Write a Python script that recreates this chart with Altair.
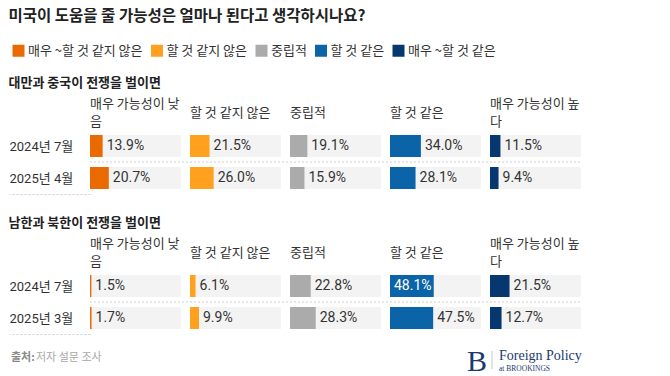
import altair as alt
import pandas as pd

chart_title = "미국이 도움을 줄 가능성은 얼마나 된다고 생각하시나요?"
legend_labels = ["매우 ~할 것 같지 않은", "할 것 같지 않은", "중립적", "할 것 같은", "매우 ~할 것 같은"]
headers = ["매우 가능성이 낮음", "할 것 같지 않은", "중립적", "할 것 같은", "매우 가능성이 높다"]
colors = ["#eb6a00", "#ffa11f", "#ababab", "#0b64a8", "#07376f"]

section1_title = "대만과 중국이 전쟁을 벌이면"
section1_rows = ["2024년 7월", "2025년 4월"]
section1_values = [[13.9, 21.5, 19.1, 34.0, 11.5],
                   [20.7, 26.0, 15.9, 28.1, 9.4]]

section2_title = "남한과 북한이 전쟁을 벌이면"
section2_rows = ["2024년 7월", "2025년 3월"]
section2_values = [[1.5, 6.1, 22.8, 48.1, 21.5],
                   [1.7, 9.9, 28.3, 47.5, 12.7]]

source_label = "출처:"
source_text = "저자 설문 조사"

FONT = "Roboto, 'Noto Sans CJK KR', sans-serif"
KFONT = "'Noto Sans CJK KR', sans-serif"
SERIF = "'Liberation Serif', serif"


def section(title_text, rows, values):
    recs = []
    for r, vals in zip(rows, values):
        for h, lg, v in zip(headers, legend_labels, vals):
            recs.append({"row": r, "col": h, "cat": lg, "value": v})
    df = pd.DataFrame(recs)

    xs = alt.Scale(domain=[0, 110])
    yaxis = alt.Axis(
        title=None, domain=False, ticks=True, tickBand="extent", tickSize=81,
        tickColor="#cfcfcf", tickDash=[2, 2], tickWidth=1,
        tickOpacity={"condition": {"test": f"datum.value == '{rows[1]}'", "value": 1}, "value": 0},
        labelAlign="left", labelPadding=0, labelFontSize=13, labelColor="#333333",
        labelFont=FONT, labelBaseline="middle",
    )
    y = alt.Y("row:N", sort=rows, title=None,
              scale=alt.Scale(paddingInner=0, paddingOuter=0), axis=yaxis)

    base = alt.Chart().transform_calculate(
        zero="0", full="100",
        lx="datum.value >= 48 ? 0 : datum.value",
        label="format(datum.value, '.1f') + '%'",
        rend=f"datum.col == '{headers[-1]}' ? 100 : 110",
        hdr="length(datum.col) > 9 ? [substring(datum.col, 0, 9), substring(datum.col, 9)] : datum.col",
    )

    bg = base.mark_bar(height=22, color="#f3f3f3").encode(
        y=y, x=alt.X("zero:Q", scale=xs, axis=None), x2="full:Q")
    bar = base.mark_bar(height=22).encode(
        y=y, x=alt.X("zero:Q", scale=xs, axis=None), x2="value:Q",
        color=alt.Color("cat:N", scale=alt.Scale(domain=legend_labels, range=colors),
                        legend=alt.Legend(title=None)))
    txt = base.mark_text(align="left", baseline="middle", dx=4, fontSize=14, font=FONT).encode(
        y=y, x=alt.X("lx:Q", scale=xs, axis=None), text="label:N",
        color=alt.condition("datum.value >= 48", alt.value("white"), alt.value("#333333")))
    rule = base.transform_filter(f"datum.row == '{rows[1]}'").mark_rule(
        color="#cfcfcf", strokeDash=[2, 2], strokeWidth=1).encode(
        y=alt.Y("row:N", sort=rows, bandPosition=0, title=None),
        x=alt.X("zero:Q", scale=xs, axis=None), x2="rend:Q")
    hdr_style = dict(align="left", baseline="middle", lineHeight=18, fontSize=13, font=KFONT,
                     color="#333333")
    hdr1 = base.transform_filter(
        f"datum.row == '{rows[0]}' && length(datum.col) <= 9").mark_text(**hdr_style).encode(
        x=alt.X("zero:Q", scale=xs, axis=None), y=alt.value(-17), text="hdr:N")
    hdr2 = base.transform_filter(
        f"datum.row == '{rows[0]}' && length(datum.col) > 9").mark_text(**hdr_style).encode(
        x=alt.X("zero:Q", scale=xs, axis=None), y=alt.value(-26), text="hdr:N")

    layered = alt.layer(bg, bar, txt, rule, hdr1, hdr2, data=df).properties(width=100, height=64)
    return layered.facet(
        column=alt.Column("col:N", sort=headers, title=None,
                          header=alt.Header(labels=False, title=None)),
        spacing=0, bounds="flush",
    ).properties(title=alt.TitleParams(title_text, anchor="start", fontSize=13, fontWeight="bold",
                                       font=KFONT, color="#222222", offset=8))


s1 = section(section1_title, section1_rows, section1_values)
s2 = section(section2_title, section2_rows, section2_values)

one = pd.DataFrame([{"a": 1}])
f_base = alt.Chart(one)
src1 = f_base.mark_text(align="left", baseline="top", fontSize=11, fontWeight="bold",
                        color="#8a8a8a", font=KFONT).encode(
    x=alt.value(-79), y=alt.value(0), text=alt.value(source_label))
src2 = f_base.mark_text(align="left", baseline="top", fontSize=11, color="#a8a8a8",
                        font=KFONT).encode(
    x=alt.value(-54), y=alt.value(0), text=alt.value(source_text))
logo_b = f_base.mark_text(align="left", baseline="top", fontSize=30, color="#1d3a6e",
                          font=SERIF).encode(
    x=alt.value(377), y=alt.value(-5), text=alt.value("B"))
logo_line = f_base.mark_rule(color="#c8c8c8").encode(
    x=alt.value(402), y=alt.value(-1), y2=alt.value(17))
logo_fp = f_base.mark_text(align="left", baseline="top", fontSize=14, color="#1d3a6e",
                           font=SERIF).encode(
    x=alt.value(409), y=alt.value(-3), text=alt.value("Foreign Policy"))
logo_at = f_base.mark_text(align="left", baseline="top", fontSize=7.5, color="#1d3a6e",
                           font=SERIF).encode(
    x=alt.value(409), y=alt.value(13), text=alt.value("at BROOKINGS"))
footer = alt.layer(src1, src2, logo_b, logo_line, logo_fp, logo_at).properties(width=500, height=14)

chart = alt.vconcat(alt.vconcat(s1, s2, spacing=22), footer, spacing=12).properties(
    title=alt.TitleParams(chart_title, anchor="start", fontSize=15.5, fontWeight="bold",
                          font=KFONT, color="#222222", offset=20),
    padding=0,
).configure_view(stroke=None).configure_legend(
    orient="none", legendX=-78, legendY=-86, direction="horizontal", symbolType="square",
    symbolSize=144, symbolStrokeWidth=0, labelFontSize=13, labelFont=KFONT,
    labelColor="#333333", columnPadding=7.5, labelOffset=3, padding=0,
)

chart.save("out.html", embed_options={"renderer": "svg", "actions": False})
